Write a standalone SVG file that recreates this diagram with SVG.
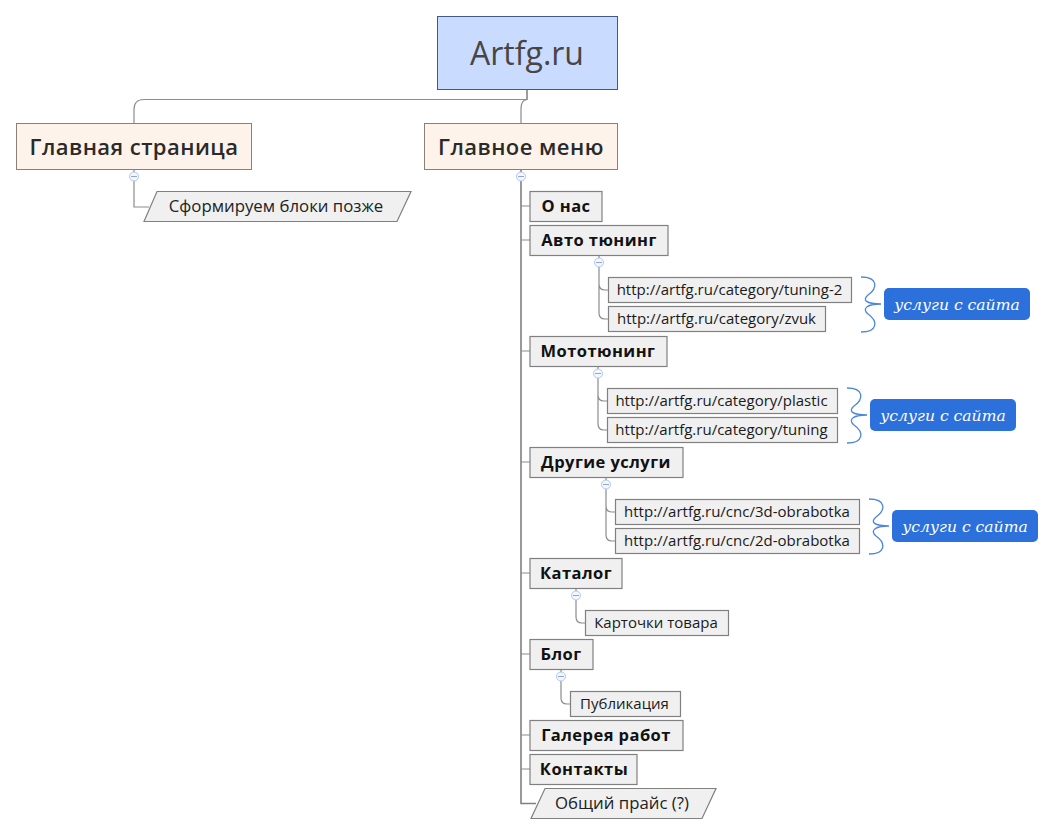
<svg xmlns="http://www.w3.org/2000/svg" width="1054" height="835" viewBox="0 0 1054 835">
<style>
text{font-family:"Open Sans","Noto Sans",sans-serif;text-anchor:middle}
.main{fill:#fdf3eb;stroke:#8a8078;stroke-width:1}
.b{fill:#f0f0f0;stroke:#808080;stroke-width:1.2}
.t1{font-size:22px;font-weight:600;fill:#2a2a2a;letter-spacing:.45px}
.t2{font-size:16.500px;font-weight:700;fill:#111;letter-spacing:.45px}
.t3{font-size:15px;fill:#1a1a1a}
.t4{font-size:16.800px;fill:#222}
.c{fill:none;stroke:#8c8c8c;stroke-width:1.2}
.tr{fill:none;stroke:#808080;stroke-width:1.6}
.br{fill:none;stroke:#4a86dc;stroke-width:1.3}
.co{fill:#2b70db}
.ct{font-family:"DejaVu Serif",serif;font-style:italic;font-size:15.600px;fill:#fff}
.m{fill:#f4f7ff;stroke:#b4c6ee;stroke-width:1}
.mm{stroke:#8ea6dc;stroke-width:1}
</style>
<g id="connectors">
<path class="c" d="M527 90V99.500H144Q134 99.500 134 109.500V123"/>
<path class="c" d="M527 90V99.500Q521 100 521 109V123"/>
<path class="c" d="M134 170V207H149"/>
<path class="tr" d="M521 170V803.500H536"/>
<path class="c" d="M521 206H530M521 240H530M521 351H530M521 462H530M521 573H530M521 654H530M521 735H530M521 769H530"/>
<path class="c" d="M599 255V284Q599 290 605 290H608M599 284V313Q599 319 605 319H608"/>
<path class="c" d="M598 366V395Q598 401 604 401H607M598 395V424Q598 430 604 430H607"/>
<path class="c" d="M606 477V506Q606 512 612 512H615M606 506V535Q606 541 612 541H615"/>
<path class="c" d="M576 588V617Q576 623 582 623H585"/>
<path class="c" d="M561 669V698Q561 704 567 704H570"/>
<path class="br" d="M861 277C878 277 878 288 868 295C862 300 866 304 881 304M861 332C878 332 878 321 868 314C862 309 866 304 881 304"/>
<path class="br" d="M847 388C864 388 864 399 854 406C848 411 852 415 867 415M847 443C864 443 864 432 854 425C848 420 852 415 867 415"/>
<path class="br" d="M869 499C886 499 886 510 876 517C870 522 874 526 889 526M869 554C886 554 886 543 876 536C870 531 874 526 889 526"/>
<g id="toggles">
<circle class="m" cx="134" cy="176.500" r="4.500"/><path class="mm" d="M131 176.500H137"/>
<circle class="m" cx="521" cy="176.500" r="4.500"/><path class="mm" d="M518 176.500H524"/>
<circle class="m" cx="599" cy="262.500" r="4.500"/><path class="mm" d="M596 262.500H602"/>
<circle class="m" cx="598" cy="373.500" r="4.500"/><path class="mm" d="M595 373.500H601"/>
<circle class="m" cx="606" cy="484.500" r="4.500"/><path class="mm" d="M603 484.500H609"/>
<circle class="m" cx="576" cy="595.500" r="4.500"/><path class="mm" d="M573 595.500H579"/>
<circle class="m" cx="561" cy="676.500" r="4.500"/><path class="mm" d="M558 676.500H564"/>
</g>
</g>
<g id="root"><rect x="437.500" y="16.500" width="180" height="73" fill="#c9dcff" stroke="#3d5a8a"/><text x="527" y="65" font-size="32" fill="#4a4545">Artfg.ru</text></g>
<g id="n-main-page"><rect class="main" x="16.500" y="123.500" width="235" height="46"/><text class="t1" x="134" y="155">Главная страница</text></g>
<g id="n-main-menu"><rect class="main" x="424.500" y="123.500" width="193" height="46"/><text class="t1" x="521" y="155">Главное меню</text></g>
<g id="n-blocks"><path class="b" d="M157 191.500H411L397 221.500H144Z"/><text class="t4" x="276" y="212">Сформируем блоки позже</text></g>
<g id="n-about"><rect class="b" x="530" y="191.500" width="72" height="30"/><text class="t2" x="566" y="212">О нас</text></g>
<g id="n-auto"><rect class="b" x="530" y="225.500" width="138" height="30"/><text class="t2" x="599" y="246">Авто тюнинг</text></g>
<g id="n-auto1"><rect class="b" x="608.500" y="277.500" width="243" height="25"/><text class="t3" x="729.500" y="295">http://artfg.ru/category/tuning-2</text></g>
<g id="n-auto2"><rect class="b" x="608.500" y="306.500" width="217" height="25"/><text class="t3" x="716.500" y="324">http://artfg.ru/category/zvuk</text></g>
<g id="c-auto"><rect class="co" x="884" y="288" width="146" height="32" rx="5"/><text class="ct" x="957" y="310">услуги с сайта</text></g>
<g id="n-moto"><rect class="b" x="530" y="336.500" width="137" height="30"/><text class="t2" x="598" y="357">Мототюнинг</text></g>
<g id="n-moto1"><rect class="b" x="607.500" y="388.500" width="230" height="25"/><text class="t3" x="721.500" y="406">http://artfg.ru/category/plastic</text></g>
<g id="n-moto2"><rect class="b" x="607.500" y="417.500" width="230" height="25"/><text class="t3" x="721.500" y="435">http://artfg.ru/category/tuning</text></g>
<g id="c-moto"><rect class="co" x="870" y="399" width="146" height="32" rx="5"/><text class="ct" x="943" y="421">услуги с сайта</text></g>
<g id="n-other"><rect class="b" x="530" y="447.500" width="153" height="30"/><text class="t2" x="606" y="468">Другие услуги</text></g>
<g id="n-other1"><rect class="b" x="615.500" y="499.500" width="244" height="25"/><text class="t3" x="737" y="517">http://artfg.ru/cnc/3d-obrabotka</text></g>
<g id="n-other2"><rect class="b" x="615.500" y="528.500" width="244" height="25"/><text class="t3" x="737" y="546">http://artfg.ru/cnc/2d-obrabotka</text></g>
<g id="c-other"><rect class="co" x="892" y="510" width="146" height="32" rx="5"/><text class="ct" x="965" y="532">услуги с сайта</text></g>
<g id="n-catalog"><rect class="b" x="530" y="558.500" width="92" height="30"/><text class="t2" x="576" y="579">Каталог</text></g>
<g id="n-cards"><rect class="b" x="585.500" y="610.500" width="143" height="25"/><text class="t3" x="656" y="628">Карточки товара</text></g>
<g id="n-blog"><rect class="b" x="530" y="639.500" width="63" height="30"/><text class="t2" x="561" y="660">Блог</text></g>
<g id="n-pub"><rect class="b" x="570.500" y="691.500" width="110" height="25"/><text class="t3" x="624.500" y="709">Публикация</text></g>
<g id="n-gallery"><rect class="b" x="530" y="720.500" width="153" height="30"/><text class="t2" x="606" y="741">Галерея работ</text></g>
<g id="n-contacts"><rect class="b" x="530" y="754.500" width="107" height="30"/><text class="t2" x="584" y="775">Контакты</text></g>
<g id="n-price"><path class="b" d="M545 788.500H716L702 818.500H531Z"/><text class="t4" x="622" y="809">Общий прайс (?)</text></g>
</svg>
